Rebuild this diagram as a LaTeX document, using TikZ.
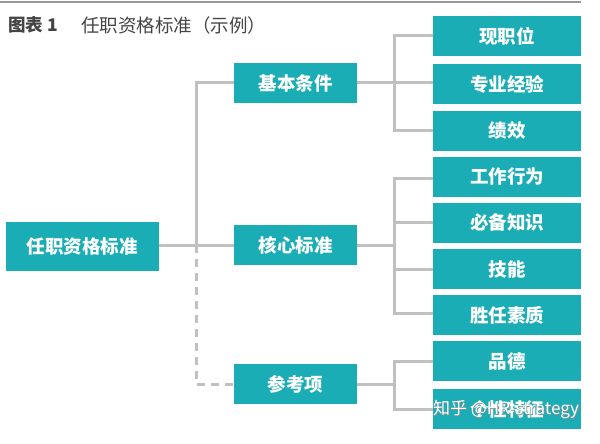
\documentclass[tikz,border=0pt]{standalone}
\usepackage{fontspec}
\setmainfont{Noto Sans CJK SC}
\usetikzlibrary{calc}
\definecolor{teal1}{HTML}{1AADB5}
\definecolor{lgray}{HTML}{C0C0C0}
\definecolor{tgray}{HTML}{444444}
\tikzset{
  box/.style={fill=teal1, text=white, font=\bfseries\fontsize{18.5}{20}\selectfont, inner sep=0pt, anchor=center},
  rootbox/.style={box, minimum width=153pt, minimum height=49pt},
  midbox/.style={box, minimum width=123pt, minimum height=40pt},
  leafbox/.style={box, minimum width=148pt, minimum height=40pt},
  conn/.style={draw=lgray, line width=3pt},
  dconn/.style={conn, dash pattern=on 8pt off 6pt},
}
\begin{document}
\begin{tikzpicture}[x=1pt,y=-1pt]
\useasboundingbox (0,0) rectangle (600,444);
\draw[draw=gray!80, line width=1.3pt] (0,2) -- (581,2);
\node[anchor=west, text=tgray, font=\bfseries\fontsize{17.5}{19}\selectfont, inner sep=0pt] (ttl) at (8,25) {图表 1};
\node[anchor=west, text=tgray, font=\fontsize{18.5}{20}\selectfont, inner sep=0pt] (sub) at (81,25) {任职资格标准（示例）};

\node[rootbox] (root) at (82.5,246) {任职资格标准};
\node[midbox] (m1) at (295.5,83) {基本条件};
\node[midbox] (m2) at (295.5,245) {核心标准};
\node[midbox] (m3) at (295.5,384) {参考项};

\node[leafbox] (r1) at (507,36) {现职位};
\node[leafbox] (r2) at (507,84) {专业经验};
\node[leafbox] (r3) at (507,130.5) {绩效};
\node[leafbox] (r4) at (507,176.5) {工作行为};
\node[leafbox] (r5) at (507,222.5) {必备知识};
\node[leafbox] (r6) at (507,269) {技能};
\node[leafbox] (r7) at (507,315) {胜任素质};
\node[leafbox] (r8) at (507,361) {品德};
\node[leafbox] (r9) at (507,409) {个性特征};

\coordinate (tr) at (196,245);
\coordinate (bx) at (394,0);

% trunk
\draw[conn] (root.east |- tr) -- (tr);
\draw[conn] (m1.west) -- (m1.west -| tr) -- (tr);
\draw[conn] (tr) -- (m2.west);
\draw[dconn] (tr) -- (tr |- m3.west) -- (m3.west);

% bracket 1
\draw[conn] (m1.east) -- (m1.east -| r2.west);
\draw[conn] (r1.west) -- (r1.west -| bx) -- (r3.west -| bx) -- (r3.west);
% bracket 2
\draw[conn] (m2.east) -- (m2.east -| bx);
\draw[conn] ($(r4.west)+(0,1.5)$) -- ($(r4.west -| bx)+(0,1.5)$) -- ($(r7.west -| bx)+(0,-1.5)$) -- ($(r7.west)+(0,-1.5)$);
\draw[conn] (r5.west -| bx) -- (r5.west);
\draw[conn] (r6.west -| bx) -- (r6.west);
% bracket 3
\draw[conn] (m3.east) -- (m3.east -| bx);
\draw[conn] (r8.west) -- (r8.west -| bx) -- (r9.west -| bx) -- (r9.west);

% watermark
\node[text=white, font=\fontsize{17}{19}\selectfont, inner sep=0pt] (wm) at (506,410) {\textcolor{black!45}{\rlap{\hspace{0.8pt}\raisebox{-0.8pt}{知乎 @HR-strategy}}}知乎 @HR-strategy};
\end{tikzpicture}
\end{document}
